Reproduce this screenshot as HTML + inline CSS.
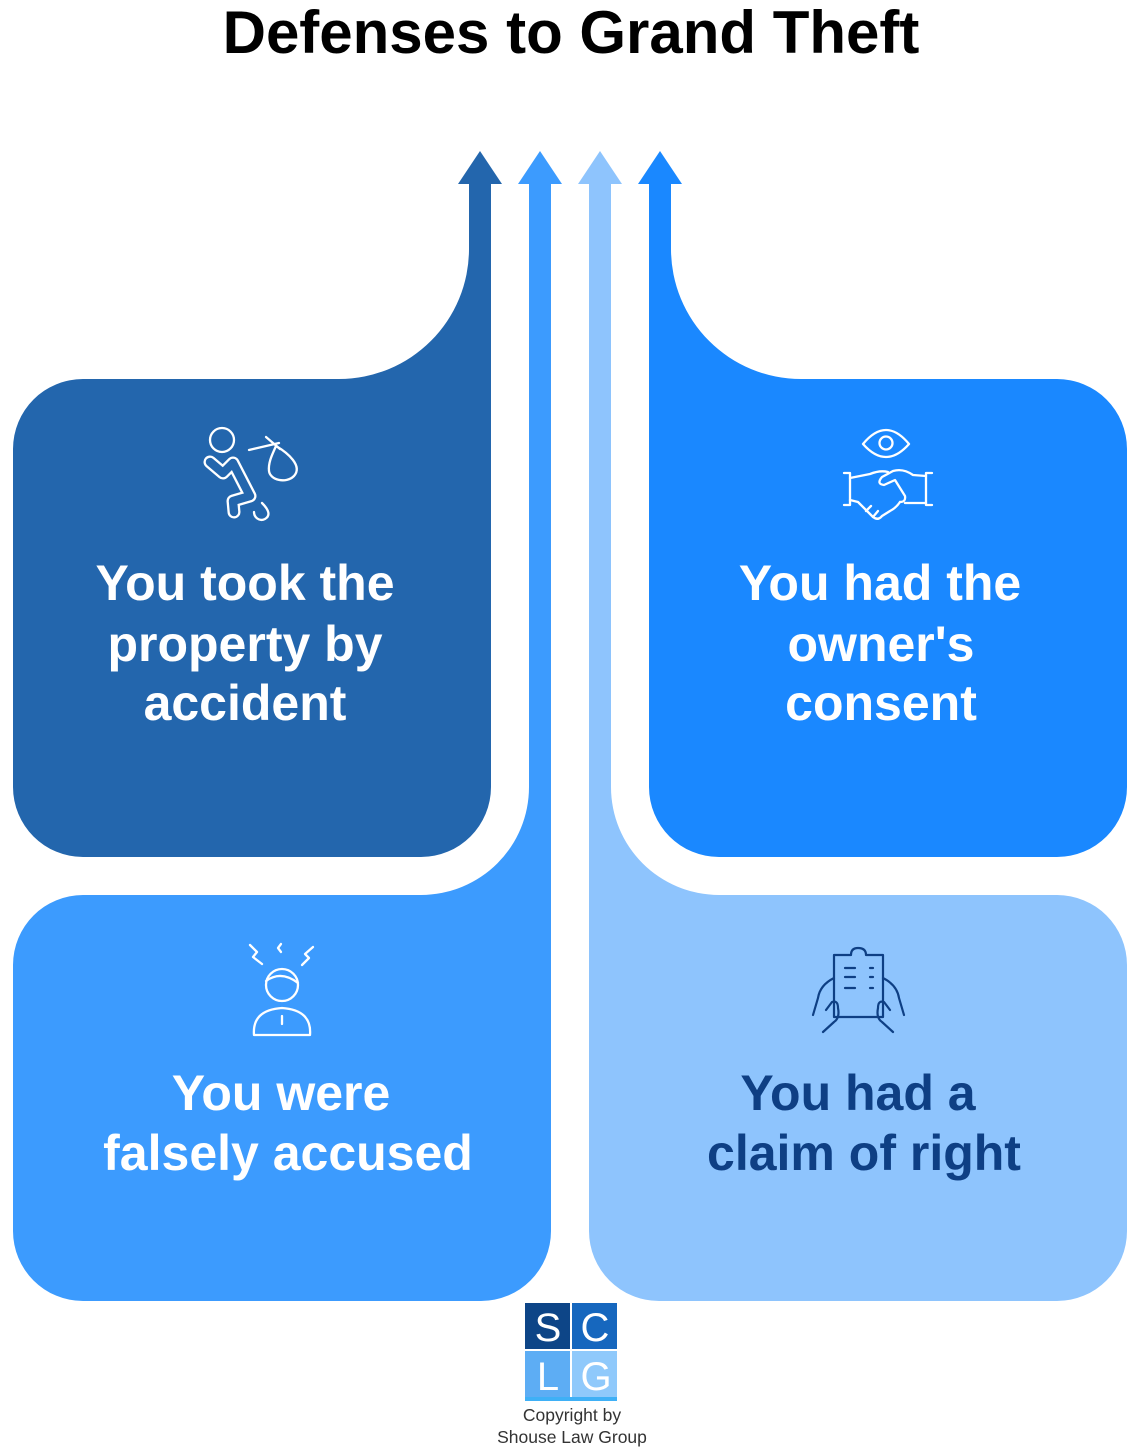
<!DOCTYPE html>
<html>
<head>
<meta charset="utf-8">
<style>
  html,body{margin:0;padding:0;background:#ffffff;}
  svg{display:block;}
  text{font-family:"Liberation Sans", Arial, sans-serif;}
</style>
</head>
<body>
<svg width="1142" height="1449" viewBox="0 0 1142 1449" xmlns="http://www.w3.org/2000/svg">
  <rect x="0" y="0" width="1142" height="1449" fill="#ffffff"/>

  <!-- Title -->
  <text x="571" y="53" text-anchor="middle" font-size="60" font-weight="bold" fill="#000000">Defenses to Grand Theft</text>

  <!-- Dark shape (top-left) -->
  <path fill="#2366AD" d="M 13 449 A 70 70 0 0 1 83 379 L 339 379 A 130 130 0 0 0 469 249 L 469 184 L 458 184 L 480 151 L 502 184 L 491 184 L 491 787 A 70 70 0 0 1 421 857 L 83 857 A 70 70 0 0 1 13 787 Z"/>

  <!-- Mid blue shape (bottom-left) -->
  <path fill="#3C9BFE" d="M 13 965 A 70 70 0 0 1 83 895 L 421 895 A 108 108 0 0 0 529 787 L 529 184 L 518 184 L 540 151 L 562 184 L 551 184 L 551 1231 A 70 70 0 0 1 481 1301 L 83 1301 A 70 70 0 0 1 13 1231 Z"/>

  <!-- Light blue shape (bottom-right) -->
  <path fill="#8EC4FD" d="M 589 1231 L 589 184 L 578 184 L 600 151 L 622 184 L 611 184 L 611 787 A 108 108 0 0 0 719 895 L 1057 895 A 70 70 0 0 1 1127 965 L 1127 1231 A 70 70 0 0 1 1057 1301 L 659 1301 A 70 70 0 0 1 589 1231 Z"/>

  <!-- Bright blue shape (top-right) -->
  <path fill="#1A88FF" d="M 649 787 L 649 184 L 638 184 L 660 151 L 682 184 L 671 184 L 671 249 A 130 130 0 0 0 801 379 L 1057 379 A 70 70 0 0 1 1127 449 L 1127 787 A 70 70 0 0 1 1057 857 L 719 857 A 70 70 0 0 1 649 787 Z"/>

  <!-- Icon: took property by accident (dark box) -->
  <g fill="none" stroke="#ffffff" stroke-width="2.3" stroke-linecap="round" stroke-linejoin="round">
    <circle cx="222" cy="440" r="12"/>
  </g>
  <g fill="none" stroke-linecap="round" stroke-linejoin="round">
    <path d="M 210 462 L 223 473 L 233 463 L 250 496 L 233 501 L 234 512" stroke="#ffffff" stroke-width="13"/>
    <path d="M 210 462 L 223 473 L 233 463 L 250 496 L 233 501 L 234 512" stroke="#2366AD" stroke-width="8.4"/>
  </g>
  <g fill="none" stroke="#ffffff" stroke-width="2.3" stroke-linecap="round" stroke-linejoin="round">
    <path d="M 262 503 C 267 508 272 515 265 519 C 259 522 254 517 254 512"/>
    <path d="M 249 450 L 279 443"/>
    <path d="M 266 437 L 280 449"/>
    <path d="M 276 446 C 288 453 303 466 294 476 C 286 484 270 480 269 471 C 268 462 273 453 276 446 Z"/>
  </g>

  <!-- Icon: owner's consent (bright box) -->
  <g fill="none" stroke="#ffffff" stroke-width="2.3" stroke-linecap="round" stroke-linejoin="round">
    <path d="M 863 444 Q 886 416 909 444 Q 886 470 863 444 Z"/>
    <circle cx="886" cy="443" r="6.5"/>
    <path d="M 844 473 L 850 473 L 850 505 L 844 505"/>
    <path d="M 932 473 L 926 473 L 926 505 L 932 505"/>
    <path d="M 850 478 L 870 474 Q 880 470 888 472"/>
    <path d="M 926 476 L 913 475 Q 903 468 893 471 L 882 477 Q 876 484 884 485 L 895 480 L 905 496 Q 906 502 900 502"/>
    <path d="M 850 500 L 858 502 L 873 517 Q 878 521 882 516 L 890 511 Q 896 508 900 502"/>
    <path d="M 926 503 L 905 503"/>
    <path d="M 866 511 L 871 506"/>
    <path d="M 873 517 L 878 511"/>
  </g>

  <!-- Icon: falsely accused (mid box) -->
  <g fill="none" stroke="#ffffff" stroke-width="2.3" stroke-linecap="round" stroke-linejoin="round">
    <path d="M 250 945 L 257 952 L 253 957 L 262 964"/>
    <path d="M 281 944 L 278 948 L 281 952"/>
    <path d="M 313 947 L 305 954 L 309 958 L 302 965"/>
    <circle cx="282" cy="985" r="16"/>
    <path d="M 266 981 Q 281 970 298 983"/>
    <path d="M 254 1035 Q 252 1010 282 1008 Q 312 1010 310 1035 Z"/>
    <path d="M 282 1016 L 282 1024"/>
  </g>

  <!-- Icon: claim of right (light box) -->
  <g fill="none" stroke="#0E3F84" stroke-width="2.2" stroke-linecap="round" stroke-linejoin="round">
    <path d="M 834 955 L 851 955 Q 851 948 858 948 Q 866 948 866 955 L 883 955 L 883 1017 L 838 1017 L 834 1017 Z"/>
    <path d="M 845 968 L 855 968"/>
    <path d="M 845 977 L 855 977"/>
    <path d="M 845 988 L 855 988"/>
    <path d="M 870 968 L 873 968"/>
    <path d="M 870 977 L 873 977"/>
    <path d="M 870 988 L 873 988"/>
    <path d="M 834 978 Q 820 985 818 998 L 813 1015"/>
    <path d="M 883 978 Q 897 985 899 998 L 904 1015"/>
    <path d="M 823 1032 L 834 1022 Q 840 1018 838 1008 Q 838 1000 832 1002 L 826 1010"/>
    <path d="M 893 1032 L 882 1022 Q 876 1018 878 1008 Q 878 1000 884 1002 L 890 1010"/>
  </g>

  <!-- Box texts -->
  <g font-size="50" font-weight="bold" fill="#ffffff" text-anchor="middle">
    <text x="245" y="600">You took the</text>
    <text x="245" y="661">property by</text>
    <text x="245" y="720">accident</text>

    <text x="880" y="600">You had the</text>
    <text x="881" y="661">owner's</text>
    <text x="881" y="720">consent</text>

    <text x="281" y="1110">You were</text>
    <text x="288" y="1170">falsely accused</text>
  </g>
  <g font-size="50" font-weight="bold" fill="#0E3F84" text-anchor="middle">
    <text x="858" y="1110">You had a</text>
    <text x="864" y="1170">claim of right</text>
  </g>

  <!-- Logo -->
  <rect x="525" y="1303" width="92" height="98" fill="#ffffff"/>
  <rect x="525" y="1303" width="45" height="46" fill="#0D4587"/>
  <rect x="572" y="1303" width="45" height="46" fill="#1667BE"/>
  <rect x="525" y="1351" width="45" height="46" fill="#5DADF4"/>
  <rect x="572" y="1351" width="45" height="46" fill="#8FC9FB"/>
  <rect x="525" y="1397" width="92" height="4" fill="#3FB0F6"/>
  <g font-size="40" fill="#ffffff" text-anchor="middle" font-weight="normal">
    <text x="548" y="1341">S</text>
    <text x="595" y="1341">C</text>
    <text x="548" y="1390">L</text>
    <text x="596" y="1390">G</text>
  </g>
  <g font-size="17.5" fill="#333333" text-anchor="middle">
    <text x="572" y="1421">Copyright by</text>
    <text x="572" y="1443">Shouse Law Group</text>
  </g>
</svg>
</body>
</html>
